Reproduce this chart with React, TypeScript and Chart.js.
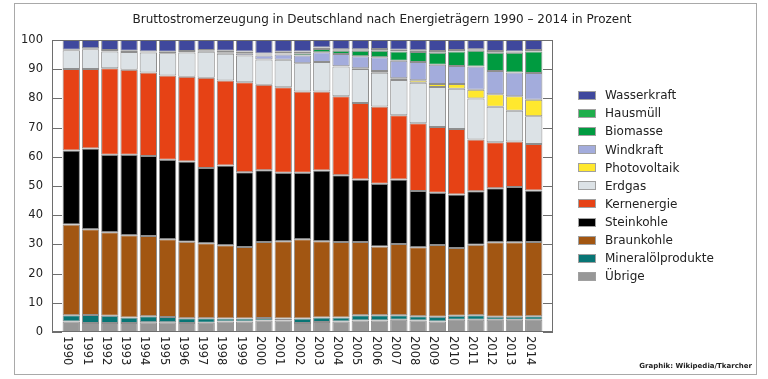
import React, { useEffect, useRef } from 'react';
import { Chart, registerables } from 'chart.js';

Chart.register(...registerables);

const TITLE = 'Bruttostromerzeugung in Deutschland nach Energieträgern 1990 – 2014 in Prozent';
const CREDIT = 'Graphik: Wikipedia/Tkarcher';

const years = [1990, 1991, 1992, 1993, 1994, 1995, 1996, 1997, 1998, 1999, 2000, 2001, 2002, 2003, 2004, 2005, 2006, 2007, 2008, 2009, 2010, 2011, 2012, 2013, 2014];
const yTicks = [0, 10, 20, 30, 40, 50, 60, 70, 80, 90, 100];

// Shares in percent (bottom of the stack first)
const uebrige = [3.6, 3.1, 3.1, 3.1, 3.3, 3.3, 3.1, 3.2, 3.6, 3.6, 3.9, 3.9, 3.1, 3.4, 3.6, 3.9, 3.9, 4.2, 3.9, 3.6, 4.2, 4.2, 4.2, 4.2, 4.2];
const mineraloel = [2.1, 2.7, 2.5, 1.9, 2.1, 1.8, 1.6, 1.5, 1.0, 1.0, 0.9, 0.7, 1.5, 1.6, 1.4, 1.8, 1.8, 1.5, 1.5, 1.6, 1.4, 1.5, 1.0, 1.0, 1.2];
const braunkohle = [31.1, 29.4, 28.6, 28.1, 27.5, 26.7, 26.2, 25.7, 25.1, 24.5, 26.0, 26.5, 27.2, 26.1, 25.8, 25.1, 23.6, 24.4, 23.6, 24.6, 23.2, 24.2, 25.5, 25.5, 25.4];
const steinkohle = [25.4, 27.6, 26.5, 27.6, 27.4, 27.2, 27.5, 25.8, 27.3, 25.6, 24.6, 23.4, 22.7, 24.2, 22.9, 21.4, 21.5, 22.1, 19.3, 17.9, 18.3, 18.3, 18.5, 19.0, 17.7];
const kernenergie = [27.9, 27.3, 29.6, 29.1, 28.6, 28.8, 29.0, 30.9, 29.1, 30.8, 29.3, 29.3, 27.9, 27.1, 27.0, 26.2, 26.4, 22.0, 23.2, 22.5, 22.4, 17.7, 15.8, 15.5, 15.9];
const erdgas = [6.4, 6.7, 5.8, 6.1, 6.8, 7.7, 8.3, 8.9, 9.2, 9.2, 8.6, 9.4, 9.6, 10.1, 10.2, 11.7, 11.6, 12.1, 13.9, 13.7, 13.8, 14.1, 12.1, 10.6, 9.5];
const photovoltaik = [0, 0, 0, 0, 0, 0, 0, 0, 0, 0, 0, 0, 0, 0, 0.1, 0.2, 0.6, 0.6, 0.8, 1.0, 1.6, 3.0, 4.3, 4.9, 5.6];
const windkraft = [0, 0, 0, 0, 0, 0, 0, 0.3, 0.5, 0.8, 1.4, 1.8, 2.7, 3.3, 4.2, 4.1, 4.7, 6.0, 6.3, 6.6, 6.2, 7.9, 8.0, 8.2, 9.2];
const biomasse = [0, 0, 0, 0, 0, 0, 0, 0, 0, 0, 0.3, 0.4, 0.8, 1.1, 1.1, 1.9, 2.2, 3.2, 3.4, 4.1, 5.0, 5.4, 6.2, 6.7, 7.4];
const hausmuell = [0.2, 0.4, 0.5, 0.4, 0.4, 0.5, 0.5, 0.3, 0.5, 0.6, 0.4, 0.6, 0.6, 0.5, 0.5, 0.5, 0.6, 0.6, 0.6, 0.6, 0.5, 0.5, 0.6, 0.5, 0.5];
const wasserkraft = [3.3, 2.8, 3.4, 3.7, 3.9, 4.0, 3.8, 3.4, 3.7, 3.9, 4.6, 4.0, 3.9, 2.6, 3.2, 3.2, 3.1, 3.3, 3.5, 3.8, 3.4, 3.2, 3.8, 3.9, 3.4];

const seriesLabels = ['Übrige', 'Mineralölprodukte', 'Braunkohle', 'Steinkohle', 'Kernenergie', 'Erdgas', 'Photovoltaik', 'Windkraft', 'Biomasse', 'Hausmüll', 'Wasserkraft'];
const seriesValues = [uebrige, mineraloel, braunkohle, steinkohle, kernenergie, erdgas, photovoltaik, windkraft, biomasse, hausmuell, wasserkraft];
const seriesColors = ['#979797', '#087575', '#a25612', '#000000', '#e64215', '#dce2e6', '#ffe82e', '#a3acdc', '#009b40', '#1fae4c', '#3f489d'];

const FONT = 'DejaVu Sans';

const decorPlugin = {
  id: 'decor',
  afterDraw(chart: any) {
    const ctx = chart.ctx as CanvasRenderingContext2D;
    const { left, right, top, bottom } = chart.chartArea;
    const ys = chart.scales.y;
    const xs = chart.scales.x;
    ctx.save();

    // outer frame
    ctx.strokeStyle = '#a9a9a9';
    ctx.lineWidth = 1;
    ctx.strokeRect(14.5, 3.5, 742, 371);

    // title
    ctx.fillStyle = '#222';
    ctx.font = `12px "${FONT}"`;
    ctx.textAlign = 'center';
    ctx.textBaseline = 'middle';
    ctx.fillText(TITLE, 382, 20);

    // plot frame
    ctx.strokeStyle = '#6e6e6e';
    ctx.strokeRect(left + 0.5, top + 0.5, right - left - 1, bottom - top - 1);

    // inward ticks on both sides
    ctx.beginPath();
    yTicks.forEach((v) => {
      const py = Math.round(ys.getPixelForValue(v)) + 0.5;
      ctx.moveTo(left, py);
      ctx.lineTo(left + 10, py);
      ctx.moveTo(right - 10, py);
      ctx.lineTo(right, py);
    });
    ctx.stroke();

    // rotated year labels (reading top to bottom)
    ctx.fillStyle = '#222';
    ctx.font = `11.5px "${FONT}"`;
    ctx.textAlign = 'left';
    ctx.textBaseline = 'middle';
    years.forEach((yr) => {
      const px = xs.getPixelForValue(yr);
      ctx.save();
      ctx.translate(px - 4, bottom + 4);
      ctx.rotate(Math.PI / 2);
      ctx.fillText(String(yr), 0, 0);
      ctx.restore();
    });

    // legend (top of stack first)
    ctx.font = `12px "${FONT}"`;
    ctx.textAlign = 'left';
    ctx.textBaseline = 'middle';
    const n = seriesLabels.length;
    for (let i = 0; i < n; i++) {
      const k = n - 1 - i;
      const cy = 95.8 + 18.03 * i;
      ctx.fillStyle = seriesColors[k];
      ctx.fillRect(578, Math.round(cy - 4.5), 18, 9);
      ctx.strokeStyle = '#a0a0a0';
      ctx.strokeRect(578.5, Math.round(cy - 4.5) + 0.5, 17, 8);
      ctx.fillStyle = '#222';
      ctx.fillText(seriesLabels[k], 605, cy + 0.5);
    }

    // credit
    ctx.font = `bold 7px "${FONT}"`;
    ctx.textAlign = 'right';
    ctx.textBaseline = 'middle';
    ctx.fillStyle = '#222';
    ctx.fillText(CREDIT, 752, 366);

    ctx.restore();
  },
};

export default function App() {
  const canvasRef = useRef<HTMLCanvasElement | null>(null);

  useEffect(() => {
    const canvas = canvasRef.current;
    if (!canvas) return;
    Chart.defaults.font.family = FONT;
    const datasets = seriesLabels.map((label, s) => ({
      label,
      data: years.map((yr, i) => ({ x: yr, y: seriesValues[s][i] })),
      backgroundColor: seriesColors[s],
      borderColor: '#8e8e8e',
      borderWidth: 1,
      borderSkipped: false,
      barPercentage: 0.9,
      categoryPercentage: 1,
    }));
    const chart = new Chart(canvas, {
      type: 'bar',
      data: { datasets } as any,
      options: {
        responsive: false,
        animation: false,
        layout: { padding: { left: 0, right: 215, top: 40, bottom: 47 } },
        plugins: {
          legend: { display: false },
          tooltip: { enabled: false },
          title: { display: false },
        },
        scales: {
          x: {
            type: 'linear',
            min: 1989,
            max: 2015,
            offset: false,
            grid: { offset: false, display: false },
            stacked: true,
            display: false,
          },
          y: {
            stacked: true,
            min: 0,
            max: 100,
            grid: { display: false, drawTicks: false },
            border: { display: false },
            ticks: { stepSize: 10, padding: 9, color: '#222', font: { family: FONT, size: 11.5 } },
            afterFit: (scale: any) => {
              scale.width = 52;
            },
          },
        },
      } as any,
      plugins: [decorPlugin],
    });
    return () => chart.destroy();
  }, []);

  return (
    <div style={{ position: 'absolute', left: 0, top: 0, width: 768, height: 379, background: '#fff' }}>
      <canvas ref={canvasRef} width={768} height={379} style={{ width: 768, height: 379, display: 'block' }} />
    </div>
  );
}
